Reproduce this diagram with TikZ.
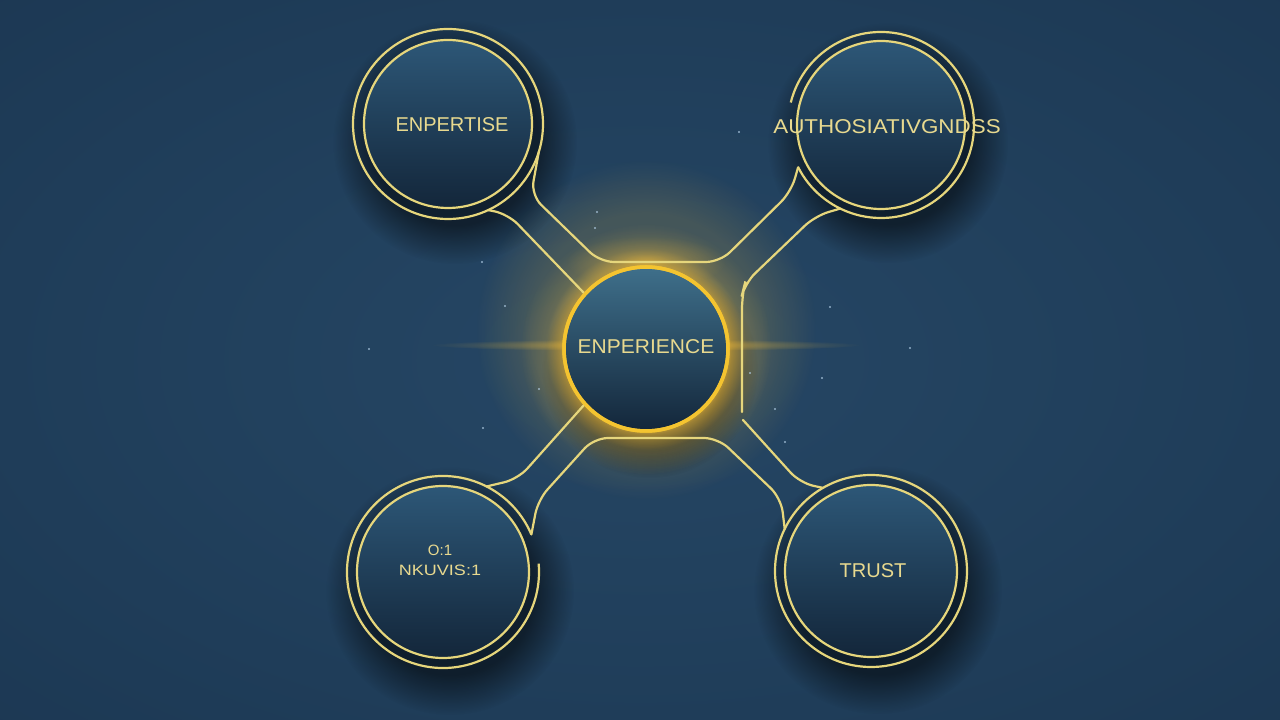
\documentclass[tikz,border=0pt]{standalone}
\usepackage{fontspec}
\setmainfont{Liberation Sans}
\usetikzlibrary{fadings}
\definecolor{bgin}{HTML}{264765}
\definecolor{bgmid}{HTML}{1F3D59}
\definecolor{bgout}{HTML}{19324D}
\definecolor{bgcorner}{HTML}{142A41}
\definecolor{gold}{HTML}{E6D67C}
\definecolor{ringc}{HTML}{F4C430}
\definecolor{glowc}{HTML}{F6BE38}
\definecolor{txt}{HTML}{E8D98F}
\definecolor{ctop}{HTML}{2D5777}
\definecolor{cbot}{HTML}{13263A}
\definecolor{starc}{HTML}{B8D4EC}
\pgfdeclareradialshading{bgsh}{\pgfpoint{0bp}{0bp}}{color(0bp)=(bgin); color(25bp)=(bgmid); color(50bp)=(bgout); color(71bp)=(bgcorner)}
\pgfdeclareradialshading{softdiscsh}{\pgfpoint{0bp}{0bp}}{color(0bp)=(white); color(17bp)=(white); color(25bp)=(black); color(50bp)=(black)}
\pgfdeclarefading{softdisc}{\pgfuseshading{softdiscsh}}
\pgfdeclareradialshading{glowsh}{\pgfpoint{0bp}{0bp}}{color(0bp)=(white); color(15.5bp)=(white); color(17bp)=(white!60!black); color(20bp)=(white!20!black); color(25bp)=(black); color(50bp)=(black)}
\pgfdeclarefading{glowfade}{\pgfuseshading{glowsh}}
\pgfdeclareradialshading{flaresh}{\pgfpoint{0bp}{0bp}}{color(0bp)=(white!85!black); color(8bp)=(white!40!black); color(25bp)=(black); color(50bp)=(black)}
\pgfdeclarefading{flarefade}{\pgfuseshading{flaresh}}
\tikzset{
  ringline/.style={draw=gold, line width=2.2pt},
  conn/.style={draw=gold, line width=2.2pt, rounded corners=14pt, line cap=round},
  ringnode/.style={circle, inner sep=0pt, outer sep=0pt, minimum size=#1},
  disc/.style={circle, inner sep=0pt, outer sep=0pt, top color=ctop, bottom color=cbot, draw=gold, line width=2.2pt, minimum size=#1},
  lbl/.style={text=txt, font=\fontsize{20}{24}\selectfont, inner sep=0pt},
  shadowdisc/.style={fill=black, opacity=.5, path fading=softdisc, fit fading=true},
  star/.style={fill=starc, opacity=.75}
}
\begin{document}
\begin{tikzpicture}[x=1pt,y=1pt]
\useasboundingbox (0,0) rectangle (1280,720);
\shade[shading=bgsh] (0,0) rectangle (1280,720);
% shadows
\fill[shadowdisc] (455,578) circle (122);
\fill[shadowdisc] (888,577) circle (120);
\fill[shadowdisc] (450,129) circle (124);
\fill[shadowdisc] (878,130) circle (124);
\fill[shadowdisc] (650,350) circle (108);
% glow and flare
\fill[glowc, opacity=.16, path fading=softdisc, fit fading=true] (646,390) circle (170);
\fill[glowc, opacity=.55, path fading=flarefade, fit fading=true] (646,458) ellipse (80 and 26);
\fill[glowc, opacity=.9, path fading=glowfade, fit fading=true] (646,371) circle (125);
\fill[glowc, opacity=.9, path fading=flarefade, fit fading=true] (646,375) ellipse (215 and 6);
% stars
\foreach \sx/\sy in {369/371,505/414,483/292,482/458,539/331,910/372,830/413,750/347,822/342,775/311,785/278,597/508,595/492,739/588}
  \fill[star] (\sx,\sy) circle (1.2);
% outer rings
\node[ringnode=190pt, ringline] (tlo) at (448,596) {};
\node[ringnode=186pt] (tro) at (881,595) {};
\draw[ringline] (tro.207) arc[start angle=207, end angle=526, radius=93pt];
\node[ringnode=192pt] (blo) at (443,148) {};
\draw[ringline] (blo.23) arc[start angle=23, end angle=365, radius=96pt];
\node[ringnode=192pt, ringline] (bro) at (871,149) {};
% center node
\node[disc=164pt, draw=ringc, line width=3.5pt, top color=ctop!90!white!95!cyan, bottom color=cbot] (cen) at (646,371) {};
% connectors
\coordinate (cfree) at (742,308);
\coordinate (dfree) at (743,300);
\draw[conn] (tlo.-17) -- (531,525) -- (600,458) -- (720,458) -- (791,528) -- (tro.207);
\draw[conn] (tlo.-65) -- (508,506) -- (cen.138);
\draw[conn] (tro.244) -- (815,504) -- (745,437) -- (742,425) -- (cfree);
\draw[conn] (dfree) -- (800,237) -- (bro.120);
\draw[conn] (blo.23) -- (538,220) -- (594,282) -- (718,282) -- (781,222) -- (bro.154);
\draw[conn] (cen.222) -- (518,241) -- (blo.63);
% inner discs
\node[disc=168pt] (tl) at (448,596) {};
\node[disc=168pt] (tr) at (881,595) {};
\node[disc=172pt] (bl) at (443,148) {};
\node[disc=172pt] (br) at (871,149) {};
\draw[draw=ringc, line width=3.5pt] (cen) circle (82);
% labels
\node[lbl] (tlt) at (452,595) {ENPERTISE};
\node[lbl] (trt) at (887,593) {\scalebox{1.12}[1]{AUTHOSIATIVGNDSS}};
\node[lbl] (cent) at (646,373) {\scalebox{1.05}[1]{ENPERIENCE}};
\node[lbl, font=\fontsize{15}{20}\selectfont, align=center] (blt) at (440,160) {O:1\\\scalebox{1.2}[1]{NKUVIS:1}};
\node[lbl] (brt) at (873,149) {TRUST};
\end{tikzpicture}
\end{document}
